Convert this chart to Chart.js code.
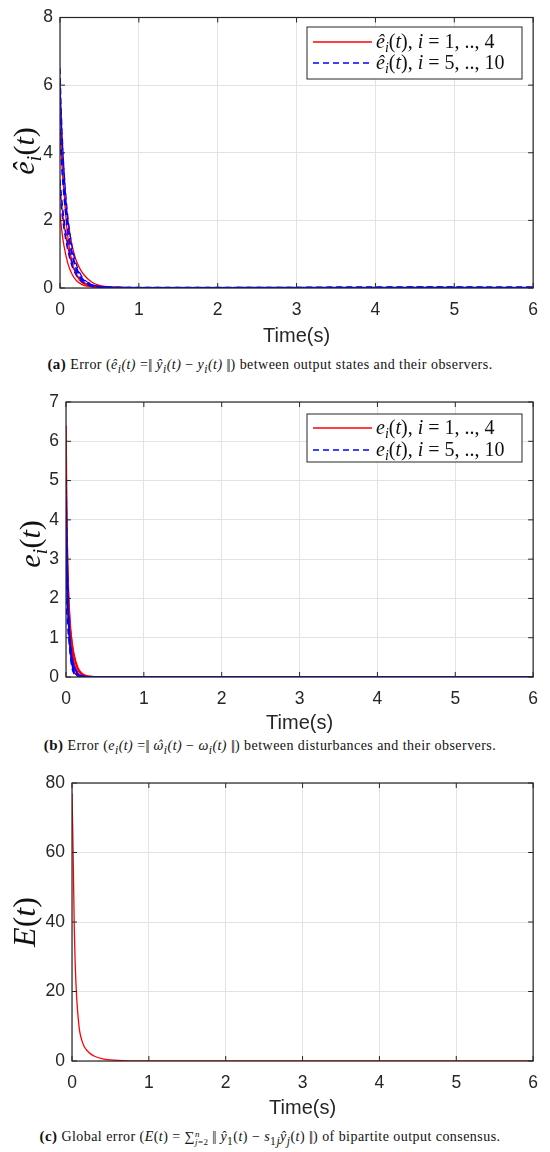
<!DOCTYPE html>
<html>
<head>
<meta charset="utf-8">
<script src="https://cdn.jsdelivr.net/npm/chart.js@4.4.1/dist/chart.umd.min.js"></script>
<style>
  html, body { margin: 0; padding: 0; background: #fff; }
  body { width: 550px; height: 1152px; position: relative; overflow: hidden; }
  .panel { position: absolute; left: 0; width: 550px; }
  .caption {
    position: absolute; left: 0; width: 540px; text-align: center;
    font-family: "Liberation Serif", serif; font-size: 14px; line-height: 18px;
    letter-spacing: 0.45px; color: #111; white-space: nowrap;
  }
  .caption b { font-size: 15px; }
  .nb { font-family: "DejaVu Serif", serif; font-size: 12px; }
  .db { letter-spacing: -1.5px; margin-right: 1.5px; font-weight: normal; }
  .ss { display: inline-block; vertical-align: -4px; line-height: 8px; font-size: 9px; text-align: left; }
</style>
</head>
<body>
<div class="panel" id="pa" style="top:0;height:348px"><canvas id="chartA"></canvas></div>
<div class="caption" style="top:355px"><b>(a)</b> Error (<i>ê<sub>i</sub>(t)</i> =<span class="db">||</span> <i>ŷ<sub>i</sub>(t)</i> − <i>y<sub>i</sub>(t)</i> <span class="db">||</span>) between output states and their observers.</div>
<div class="panel" id="pb" style="top:380px;height:355px"><canvas id="chartB"></canvas></div>
<div class="caption" style="top:736px"><b>(b)</b> Error (<i>e<sub>i</sub>(t)</i> =<span class="db">||</span> <i class="nb">ω̂</i><i><sub>i</sub>(t)</i> − <i>ω<sub>i</sub>(t)</i> <span class="db">||</span>) between disturbances and their observers.</div>
<div class="panel" id="pc" style="top:760px;height:360px"><canvas id="chartC"></canvas></div>
<div class="caption" style="top:1127px"><b>(c)</b> Global error (<i>E</i>(<i>t</i>) = ∑<span class="ss"><i>n</i><br><i>j</i>=2</span> <span class="db">||</span> <i>ŷ</i><sub>1</sub>(<i>t</i>) − <i>s</i><sub>1<i>j</i></sub><i>ŷ<sub>j</sub></i>(<i>t</i>) <span class="db">||</span>) of bipartite output consensus.</div>

<script>
// ---- data ----
const xTicks = [0, 1, 2, 3, 4, 5, 6];

// panel (a): observer output errors
const timeA = [0, 0.02, 0.05, 0.1, 0.15, 0.2, 0.25, 0.3, 0.4, 0.5, 0.6, 0.8, 1, 1.5, 2, 2.5, 3, 3.5, 4, 4.5, 5, 5.5, 6];
const yTicksA = [0, 2, 4, 6, 8];
const aRed1 = [5.6, 4.3, 2.9, 1.5, 0.8, 0.42, 0.23, 0.13, 0.05, 0.02, 0.01, 0.01, 0.01, 0.01, 0.01, 0.01, 0.01, 0.01, 0.01, 0.01, 0.01, 0.01, 0.01];
const aRed2 = [4.7, 3.8, 2.9, 2.0, 1.3, 0.85, 0.58, 0.4, 0.18, 0.08, 0.04, 0.02, 0.01, 0.01, 0.01, 0.01, 0.01, 0.01, 0.01, 0.01, 0.01, 0.01, 0.01];
const aRed3 = [2.2, 1.75, 1.25, 0.72, 0.42, 0.24, 0.14, 0.08, 0.03, 0.01, 0.01, 0.01, 0.01, 0.01, 0.01, 0.01, 0.01, 0.01, 0.01, 0.01, 0.01, 0.01, 0.01];
const aRed4 = [3.0, 2.5, 1.9, 1.2, 0.72, 0.44, 0.27, 0.17, 0.07, 0.03, 0.02, 0.01, 0.01, 0.01, 0.01, 0.01, 0.01, 0.01, 0.01, 0.01, 0.01, 0.01, 0.01];
const aBlue1 = [6.5, 5.0, 3.5, 1.9, 1.05, 0.6, 0.35, 0.2, 0.08, 0.04, 0.03, 0.02, 0.02, 0.02, 0.02, 0.02, 0.02, 0.03, 0.03, 0.03, 0.03, 0.03, 0.03];
const aBlue2 = [6.05, 4.8, 3.5, 2.1, 1.25, 0.75, 0.45, 0.27, 0.11, 0.05, 0.03, 0.02, 0.02, 0.02, 0.02, 0.02, 0.02, 0.02, 0.02, 0.02, 0.02, 0.02, 0.02];
const aBlue3 = [5.0, 4.0, 2.95, 1.8, 1.1, 0.66, 0.4, 0.24, 0.1, 0.04, 0.02, 0.02, 0.01, 0.01, 0.01, 0.02, 0.02, 0.02, 0.02, 0.03, 0.03, 0.02, 0.02];
const aBlue4 = [4.4, 3.6, 2.7, 1.65, 1.0, 0.62, 0.38, 0.23, 0.09, 0.04, 0.02, 0.01, 0.01, 0.01, 0.01, 0.01, 0.01, 0.01, 0.01, 0.01, 0.01, 0.01, 0.01];
const aBlue5 = [3.2, 2.7, 2.05, 1.3, 0.8, 0.5, 0.31, 0.19, 0.08, 0.03, 0.02, 0.01, 0.01, 0.01, 0.01, 0.01, 0.01, 0.01, 0.01, 0.01, 0.01, 0.01, 0.01];
const aBlue6 = [2.8, 2.3, 1.75, 1.1, 0.66, 0.4, 0.25, 0.15, 0.06, 0.03, 0.02, 0.01, 0.01, 0.01, 0.01, 0.01, 0.01, 0.01, 0.01, 0.01, 0.01, 0.01, 0.01];

// panel (b): disturbance observer errors
const timeB = [0, 0.01, 0.02, 0.03, 0.05, 0.075, 0.1, 0.15, 0.2, 0.25, 0.3, 0.4, 0.5, 1, 2, 3, 4, 5, 6];
const yTicksB = [0, 1, 2, 3, 4, 5, 6, 7];
const bRed1 = [6.4, 4.2, 2.8, 1.9, 0.85, 0.35, 0.15, 0.03, 0.01, 0, 0, 0, 0, 0, 0, 0, 0, 0, 0];
const bRed2 = [5.1, 3.9, 3.0, 2.3, 1.35, 0.7, 0.38, 0.11, 0.03, 0.01, 0, 0, 0, 0, 0, 0, 0, 0, 0];
const bRed3 = [2.7, 2.35, 2.05, 1.78, 1.3, 0.9, 0.6, 0.25, 0.1, 0.04, 0.015, 0.005, 0, 0, 0, 0, 0, 0, 0];
const bRed4 = [3.9, 3.2, 2.6, 2.15, 1.45, 0.9, 0.55, 0.2, 0.07, 0.025, 0.01, 0, 0, 0, 0, 0, 0, 0, 0];
const bBlue1 = [5.05, 3.4, 2.3, 1.55, 0.7, 0.26, 0.1, 0.015, 0, 0, 0, 0, 0, 0, 0, 0, 0, 0, 0];
const bBlue2 = [4.4, 3.2, 2.35, 1.7, 0.9, 0.4, 0.18, 0.04, 0.01, 0, 0, 0, 0, 0, 0, 0, 0, 0, 0];
const bBlue3 = [3.3, 2.6, 2.05, 1.6, 1.0, 0.55, 0.3, 0.09, 0.03, 0.01, 0, 0, 0, 0, 0, 0, 0, 0, 0];
const bBlue4 = [2.0, 1.65, 1.35, 1.1, 0.74, 0.45, 0.27, 0.1, 0.035, 0.01, 0, 0, 0, 0, 0, 0, 0, 0, 0];
const bBlue5 = [4.6, 3.3, 2.4, 1.7, 0.85, 0.38, 0.17, 0.035, 0.01, 0, 0, 0, 0, 0, 0, 0, 0, 0, 0];
const bBlue6 = [2.9, 2.3, 1.85, 1.45, 0.9, 0.5, 0.26, 0.07, 0.02, 0, 0, 0, 0, 0, 0, 0, 0, 0, 0];

// panel (c): global consensus error
const timeC = [0, 0.01, 0.02, 0.03, 0.04, 0.05, 0.06, 0.08, 0.1, 0.13, 0.16, 0.2, 0.25, 0.3, 0.4, 0.5, 0.6, 0.8, 1, 1.5, 2, 3, 4, 5, 6];
const yTicksC = [0, 20, 40, 60, 80];
const cGlobal = [77, 66, 52, 38, 29, 23, 18.5, 12.5, 8.5, 5.8, 4.1, 2.9, 1.9, 1.3, 0.6, 0.3, 0.15, 0.05, 0.02, 0.01, 0, 0, 0, 0, 0];

// ---- helpers ----
const RED = '#ff0000';
const BLUE = '#0000ff';
const INK = '#262626';
const SERIF = '"Liberation Serif", "Times New Roman", serif';
const SANS = '"Liberation Sans", Arial, sans-serif';

function series(times, values, color, dashed, width) {
  return {
    data: times.map((t, k) => ({ x: t, y: values[k] })),
    borderColor: color,
    borderWidth: width,
    borderDash: dashed ? [6, 4] : [],
    pointRadius: 0,
    fill: false,
    cubicInterpolationMode: 'monotone',
    order: dashed ? 0 : 1
  };
}

// short math strings made of parts (italic / subscript)
function mathWidth(ctx, parts, size) {
  let w = 0;
  for (const p of parts) {
    const fs = p.sub ? size * 0.7 : size;
    ctx.font = (p.it ? 'italic ' : '') + fs + 'px ' + SERIF;
    w += ctx.measureText(p.s).width;
  }
  return w;
}
function drawMath(ctx, parts, size, x, y) {
  let cx = x;
  ctx.textBaseline = 'alphabetic';
  ctx.textAlign = 'left';
  for (const p of parts) {
    const fs = p.sub ? size * 0.7 : size;
    ctx.font = (p.it ? 'italic ' : '') + fs + 'px ' + SERIF;
    ctx.fillText(p.s, cx, y + (p.sub ? size * 0.22 : 0));
    cx += ctx.measureText(p.s).width;
  }
}

// MATLAB-like frame: box, inward ticks, y label, legend
const matlabFrame = {
  id: 'matlabFrame',
  afterDatasetsDraw(chart, args, opts) {
    const { ctx, chartArea: a, scales } = chart;
    ctx.save();
    ctx.strokeStyle = INK;
    ctx.lineWidth = 1.2;
    ctx.setLineDash([]);
    ctx.strokeRect(a.left, a.top, a.right - a.left, a.bottom - a.top);
    ctx.lineWidth = 1;
    ctx.beginPath();
    for (const v of xTicks) {
      const px = scales.x.getPixelForValue(v);
      ctx.moveTo(px, a.bottom); ctx.lineTo(px, a.bottom - 5);
      ctx.moveTo(px, a.top); ctx.lineTo(px, a.top + 5);
    }
    for (const v of opts.yTicks) {
      const py = scales.y.getPixelForValue(v);
      ctx.moveTo(a.left, py); ctx.lineTo(a.left + 5, py);
      ctx.moveTo(a.right, py); ctx.lineTo(a.right - 5, py);
    }
    ctx.stroke();

    // y label, rotated
    ctx.fillStyle = '#111';
    const w = mathWidth(ctx, opts.yLabel, opts.yLabelSize);
    ctx.translate(opts.yLabelPos[0], opts.yLabelPos[1]);
    ctx.rotate(-Math.PI / 2);
    drawMath(ctx, opts.yLabel, opts.yLabelSize, -w / 2, opts.yLabelSize * 0.3);
    ctx.setTransform(1, 0, 0, 1, 0, 0);
    ctx.scale(chart.currentDevicePixelRatio, chart.currentDevicePixelRatio);

    // legend inside the axes
    if (opts.legend) {
      const L = opts.legend;
      ctx.fillStyle = '#fff';
      ctx.fillRect(L.box[0], L.box[1], L.box[2], L.box[3]);
      ctx.strokeStyle = INK;
      ctx.lineWidth = 1;
      ctx.strokeRect(L.box[0], L.box[1], L.box[2], L.box[3]);
      L.rows.forEach((row, k) => {
        const y = L.box[1] + L.rowY[k];
        ctx.strokeStyle = row.color;
        ctx.lineWidth = 1.3;
        ctx.setLineDash(row.dashed ? [6, 4] : []);
        ctx.beginPath();
        ctx.moveTo(L.box[0] + 6, y); ctx.lineTo(L.box[0] + 65, y);
        ctx.stroke();
        ctx.setLineDash([]);
        ctx.fillStyle = '#111';
        drawMath(ctx, row.parts, 20, L.box[0] + 69, y + 6);
      });
    }
    ctx.restore();
  }
};

function makeChart(id, datasets, cfg) {
  return new Chart(document.getElementById(id), {
    type: 'line',
    data: { datasets },
    plugins: [matlabFrame],
    options: {
      responsive: true,
      maintainAspectRatio: false,
      animation: false,
      layout: { padding: { top: cfg.top, right: 12, left: 0, bottom: 0 } },
      plugins: {
        legend: { display: false },
        tooltip: { enabled: false },
        matlabFrame: cfg.frame
      },
      scales: {
        x: {
          type: 'linear', min: 0, max: 6,
          afterBuildTicks: s => { s.ticks = xTicks.map(v => ({ value: v })); },
          afterFit: s => { s.height = cfg.xHeight; },
          grid: { color: '#e3e3e3', drawTicks: false },
          border: { display: false },
          ticks: { padding: 12, color: INK, font: { family: SANS, size: 17.5 } },
          title: { display: true, text: 'Time(s)', color: INK, padding: { top: 0, bottom: 0 },
                   font: { family: SANS, size: 20 } }
        },
        y: {
          type: 'linear', min: cfg.yTicks[0], max: cfg.yTicks[cfg.yTicks.length - 1],
          afterBuildTicks: s => { s.ticks = cfg.yTicks.map(v => ({ value: v })); },
          afterFit: s => { s.width = cfg.yWidth; },
          grid: { color: '#e3e3e3', drawTicks: false },
          border: { display: false },
          ticks: { padding: 7, color: INK, font: { family: SANS, size: 17.5 } }
        }
      }
    }
  });
}

const hatE = [{ s: 'ê', it: true }, { s: 'i', it: true, sub: true }, { s: '(' }, { s: 't', it: true }, { s: ')' }];
const plainE = [{ s: 'e', it: true }, { s: 'i', it: true, sub: true }, { s: '(' }, { s: 't', it: true }, { s: ')' }];

makeChart('chartA', [
  series(timeA, aBlue1, BLUE, true, 1.3), series(timeA, aBlue2, BLUE, true, 1.3),
  series(timeA, aBlue3, BLUE, true, 1.3), series(timeA, aBlue4, BLUE, true, 1.3),
  series(timeA, aBlue5, BLUE, true, 1.3), series(timeA, aBlue6, BLUE, true, 1.3),
  series(timeA, aRed1, RED, false, 1.3), series(timeA, aRed2, RED, false, 1.3),
  series(timeA, aRed3, RED, false, 1.3), series(timeA, aRed4, RED, false, 1.3)
], {
  top: 14, xHeight: 60, yWidth: 60, yTicks: yTicksA,
  frame: {
    yTicks: yTicksA, yLabel: hatE, yLabelSize: 30, yLabelPos: [25, 151],
    legend: {
      box: [307, 27, 215, 52], rowY: [15, 36],
      rows: [
        { color: RED, dashed: false, parts: hatE.concat([{ s: ', ' }, { s: 'i', it: true }, { s: ' = 1, .., 4' }]) },
        { color: BLUE, dashed: true, parts: hatE.concat([{ s: ', ' }, { s: 'i', it: true }, { s: ' = 5, .., 10' }]) }
      ]
    }
  }
});

makeChart('chartB', [
  series(timeB, bBlue1, BLUE, true, 1.6), series(timeB, bBlue2, BLUE, true, 1.6),
  series(timeB, bBlue3, BLUE, true, 1.6), series(timeB, bBlue4, BLUE, true, 1.6),
  series(timeB, bBlue5, BLUE, true, 1.6), series(timeB, bBlue6, BLUE, true, 1.6),
  series(timeB, bRed1, RED, false, 1.6), series(timeB, bRed2, RED, false, 1.6),
  series(timeB, bRed3, RED, false, 1.6), series(timeB, bRed4, RED, false, 1.6)
], {
  top: 22, xHeight: 58, yWidth: 66, yTicks: yTicksB,
  frame: {
    yTicks: yTicksB, yLabel: plainE, yLabelSize: 30, yLabelPos: [31, 164],
    legend: {
      box: [307, 34, 215, 48], rowY: [14, 36],
      rows: [
        { color: RED, dashed: false, parts: plainE.concat([{ s: ', ' }, { s: 'i', it: true }, { s: ' = 1, .., 4' }]) },
        { color: BLUE, dashed: true, parts: plainE.concat([{ s: ', ' }, { s: 'i', it: true }, { s: ' = 5, .., 10' }]) }
      ]
    }
  }
});

makeChart('chartC', [
  series(timeC, cGlobal, RED, false, 1.3)
], {
  top: 23, xHeight: 59, yWidth: 72, yTicks: yTicksC,
  frame: {
    yTicks: yTicksC, yLabel: [{ s: 'E', it: true }, { s: '(' }, { s: 't', it: true }, { s: ')' }],
    yLabelSize: 32, yLabelPos: [25, 162], legend: null
  }
});
</script>
</body>
</html>
